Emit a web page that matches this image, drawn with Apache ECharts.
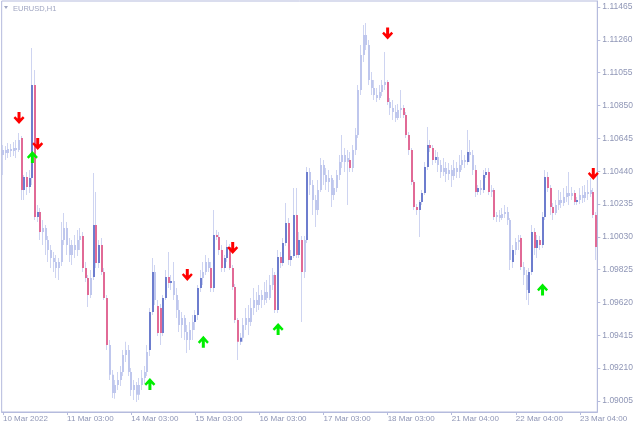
<!DOCTYPE html>
<html>
<head>
<meta charset="utf-8">
<script src="https://cdn.jsdelivr.net/npm/echarts@6/dist/echarts.min.js"></script>
<style>
html,body{margin:0;padding:0;background:#fff;}
#chart{width:640px;height:427px;}
</style>
</head>
<body>
<div id="chart"></div>
<script>
// ---- Data (EURUSD H1) ----
const tickLabels = ['10 Mar 2022','11 Mar 03:00','14 Mar 03:00','15 Mar 03:00','16 Mar 03:00','17 Mar 03:00','18 Mar 03:00','21 Mar 04:00','22 Mar 04:00','23 Mar 04:00'];
const barsPerLabel = 24;
const priceTicks = [1.09005,1.09210,1.09415,1.09620,1.09825,1.10030,1.10235,1.10440,1.10645,1.10850,1.11055,1.11260,1.11465];

const open = [
1.10541,1.10572,1.10554,1.10579,1.10566,1.10585,1.10572,1.10647,1.10323,1.10404,
1.10341,1.10398,1.10978,1.10154,1.10185,1.10060,1.10085,1.10010,1.09948,1.09898,
1.09873,1.09836,1.09873,1.10010,1.10085,1.09979,1.09917,1.09979,1.09948,1.10010,
1.10035,1.09836,1.09773,1.09667,1.09779,1.10104,1.09867,1.09979,1.09811,1.09648,
1.09355,1.09168,1.09055,1.09105,1.09136,1.09186,1.09292,1.09324,1.09186,1.09074,
1.09105,1.09043,1.09105,1.09149,1.09186,1.09324,1.09561,1.09811,1.09598,1.09586,
1.09430,1.09648,1.09779,1.09742,1.09754,1.09667,1.09573,1.09480,1.09523,1.09436,
1.09386,1.09448,1.09498,1.09542,1.09711,1.09773,1.09811,1.09873,1.09836,1.09711,
1.10042,1.10029,1.09948,1.09836,1.09898,1.09967,1.09836,1.09717,1.09511,1.09374,
1.09399,1.09480,1.09523,1.09498,1.09586,1.09636,1.09605,1.09667,1.09636,1.09686,
1.09648,1.09729,1.09792,1.09573,1.09904,1.09867,1.09992,1.10117,1.09886,1.09911,
1.10167,1.09917,1.10010,1.09811,1.10010,1.10435,1.10354,1.10260,1.10198,1.10323,
1.10479,1.10416,1.10373,1.10398,1.10291,1.10335,1.10416,1.10498,1.10541,1.10498,
1.10510,1.10460,1.10572,1.10666,1.10947,1.11166,1.11290,1.11228,1.11010,1.10960,
1.10916,1.10897,1.10935,1.10978,1.10997,1.10872,1.10835,1.10810,1.10772,1.10822,
1.10835,1.10791,1.10666,1.10572,1.10373,1.10216,1.10198,1.10248,1.10304,1.10466,
1.10604,1.10585,1.10510,1.10529,1.10479,1.10435,1.10460,1.10423,1.10448,1.10410,
1.10460,1.10435,1.10479,1.10510,1.10498,1.10560,1.10541,1.10448,1.10310,1.10335,
1.10323,1.10416,1.10435,1.10310,1.10323,1.10154,1.10167,1.10148,1.10173,1.10185,
1.10135,1.09873,1.09948,1.09998,1.10023,1.09842,1.09792,1.09680,1.09811,1.10060,
1.09960,1.10010,1.09979,1.10154,1.10404,1.10335,1.10216,1.10179,1.10229,1.10260,
1.10242,1.10279,1.10304,1.10285,1.10304,1.10248,1.10260,1.10291,1.10273,1.10310,
1.10298,1.10310,1.10167];

const close = [
1.10572,1.10554,1.10579,1.10566,1.10585,1.10572,1.10635,1.10323,1.10404,1.10341,
1.10398,1.10978,1.10154,1.10185,1.10060,1.10085,1.10010,1.09948,1.09898,1.09873,
1.09836,1.09873,1.10010,1.10085,1.09979,1.09917,1.09979,1.09948,1.10010,1.10035,
1.09836,1.09773,1.09667,1.09773,1.10104,1.09867,1.09979,1.09811,1.09648,1.09355,
1.09168,1.09055,1.09105,1.09136,1.09186,1.09292,1.09324,1.09186,1.09074,1.09105,
1.09043,1.09105,1.09149,1.09186,1.09311,1.09561,1.09811,1.09636,1.09430,1.09430,
1.09648,1.09779,1.09742,1.09754,1.09667,1.09573,1.09480,1.09523,1.09436,1.09386,
1.09448,1.09498,1.09542,1.09711,1.09773,1.09811,1.09873,1.09836,1.09711,1.10042,
1.10029,1.09948,1.09836,1.09898,1.09967,1.09836,1.09717,1.09511,1.09374,1.09399,
1.09480,1.09523,1.09498,1.09586,1.09636,1.09605,1.09667,1.09636,1.09686,1.09648,
1.09729,1.09792,1.09573,1.09904,1.09867,1.09992,1.10117,1.09886,1.09911,1.10167,
1.09917,1.10010,1.09811,1.10010,1.10435,1.10354,1.10260,1.10198,1.10323,1.10479,
1.10416,1.10373,1.10398,1.10291,1.10335,1.10416,1.10498,1.10541,1.10498,1.10522,
1.10460,1.10572,1.10666,1.10947,1.11166,1.11290,1.11228,1.11010,1.10960,1.10916,
1.10897,1.10935,1.10978,1.10997,1.10872,1.10835,1.10810,1.10772,1.10822,1.10835,
1.10791,1.10666,1.10572,1.10373,1.10216,1.10198,1.10248,1.10304,1.10466,1.10604,
1.10585,1.10510,1.10529,1.10479,1.10435,1.10460,1.10423,1.10448,1.10410,1.10460,
1.10435,1.10479,1.10510,1.10498,1.10560,1.10541,1.10448,1.10310,1.10335,1.10323,
1.10416,1.10435,1.10310,1.10323,1.10154,1.10167,1.10148,1.10173,1.10185,1.10135,
1.09886,1.09948,1.09998,1.10010,1.09842,1.09792,1.09698,1.09811,1.10060,1.09960,
1.10010,1.09979,1.10154,1.10404,1.10335,1.10216,1.10179,1.10229,1.10260,1.10242,
1.10279,1.10304,1.10285,1.10304,1.10248,1.10260,1.10291,1.10273,1.10310,1.10298,
1.10323,1.10167,1.09967];

const low = [
1.10416,1.10510,1.10522,1.10529,1.10535,1.10522,1.10560,1.10260,1.10260,1.10291,
1.10304,1.10354,1.10135,1.10123,1.10010,1.09979,1.09917,1.09873,1.09836,1.09811,
1.09773,1.09761,1.09848,1.09979,1.09917,1.09873,1.09854,1.09898,1.09911,1.09948,
1.09811,1.09748,1.09592,1.09648,1.09761,1.09836,1.09836,1.09792,1.09636,1.09324,
1.09136,1.09024,1.09018,1.09074,1.09099,1.09161,1.09249,1.09161,1.09036,1.09011,
1.08999,1.09011,1.09074,1.09111,1.09161,1.09286,1.09542,1.09605,1.09411,1.09355,
1.09411,1.09636,1.09711,1.09698,1.09636,1.09523,1.09436,1.09398,1.09386,1.09305,
1.09324,1.09386,1.09448,1.09511,1.09686,1.09729,1.09792,1.09811,1.09686,1.09686,
1.10010,1.09917,1.09811,1.09811,1.09873,1.09823,1.09698,1.09492,1.09261,1.09355,
1.09374,1.09448,1.09417,1.09473,1.09542,1.09561,1.09573,1.09586,1.09605,1.09617,
1.09636,1.09698,1.09555,1.09555,1.09836,1.09848,1.09973,1.09854,1.09848,1.09898,
1.09898,1.09898,1.09498,1.09773,1.09992,1.10291,1.10167,1.10092,1.10167,1.10310,
1.10354,1.10323,1.10310,1.10216,1.10260,1.10310,1.10385,1.10460,1.10435,1.10229,
1.10435,1.10435,1.10541,1.10647,1.10916,1.11122,1.11197,1.10978,1.10916,1.10885,
1.10872,1.10885,1.10910,1.10947,1.10853,1.10791,1.10760,1.10747,1.10760,1.10772,
1.10772,1.10647,1.10541,1.10354,1.10198,1.10167,1.10029,1.10229,1.10291,1.10448,
1.10560,1.10479,1.10491,1.10435,1.10398,1.10410,1.10373,1.10385,1.10341,1.10385,
1.10398,1.10398,1.10448,1.10460,1.10479,1.10498,1.10416,1.10279,1.10291,1.10291,
1.10304,1.10398,1.10291,1.10279,1.10135,1.10123,1.10123,1.10135,1.10148,1.10104,
1.09823,1.09836,1.09917,1.09948,1.09823,1.09729,1.09636,1.09605,1.09792,1.09917,
1.09898,1.09948,1.09960,1.10135,1.10310,1.10167,1.10135,1.10167,1.10198,1.10210,
1.10223,1.10248,1.10229,1.10260,1.10229,1.10229,1.10235,1.10242,1.10248,1.10260,
1.10279,1.10148,1.09886];

const high = [
1.10604,1.10597,1.10616,1.10610,1.10622,1.10635,1.10679,1.10660,1.10416,1.10435,
1.10448,1.11209,1.11072,1.10229,1.10210,1.10135,1.10104,1.10035,1.09979,1.09936,
1.09917,1.09898,1.10123,1.10179,1.10123,1.10023,1.10010,1.10042,1.10073,1.10085,
1.10060,1.09873,1.09792,1.09823,1.10429,1.10310,1.10010,1.10023,1.09836,1.09667,
1.09386,1.09199,1.09136,1.09186,1.09224,1.09324,1.09374,1.09355,1.09211,1.09136,
1.09124,1.09149,1.09199,1.09224,1.09355,1.09586,1.09898,1.09854,1.09636,1.09611,
1.09667,1.09823,1.09936,1.09792,1.09873,1.09711,1.09636,1.09561,1.09542,1.09480,
1.09498,1.09542,1.09573,1.09729,1.09823,1.09873,1.09917,1.09898,1.09873,1.10198,
1.10073,1.10060,1.09979,1.09917,1.10010,1.09985,1.09854,1.09736,1.09523,1.09430,
1.09523,1.09586,1.09605,1.09648,1.09711,1.09686,1.09729,1.09698,1.09748,1.09761,
1.09792,1.09836,1.09811,1.09948,1.09936,1.10023,1.10242,1.10148,1.09948,1.10335,
1.10335,1.10060,1.10035,1.10035,1.10466,1.10460,1.10385,1.10291,1.10385,1.10522,
1.10510,1.10460,1.10448,1.10416,1.10385,1.10448,1.10541,1.10666,1.10585,1.10572,
1.10560,1.10604,1.10710,1.10978,1.11228,1.11353,1.11365,1.11259,1.11059,1.11010,
1.10960,1.10978,1.11010,1.11184,1.11010,1.10897,1.10885,1.10853,1.10860,1.10947,
1.10853,1.10810,1.10685,1.10585,1.10385,1.10235,1.10260,1.10323,1.10498,1.10716,
1.10635,1.10604,1.10572,1.10560,1.10510,1.10522,1.10498,1.10491,1.10479,1.10510,
1.10498,1.10541,1.10572,1.10541,1.10697,1.10635,1.10572,1.10479,1.10354,1.10385,
1.10448,1.10460,1.10460,1.10354,1.10335,1.10185,1.10198,1.10210,1.10229,1.10216,
1.10148,1.09979,1.10023,1.10042,1.10042,1.09873,1.09823,1.09836,1.10104,1.10085,
1.10042,1.10035,1.10185,1.10448,1.10435,1.10354,1.10242,1.10260,1.10323,1.10310,
1.10335,1.10348,1.10435,1.10341,1.10323,1.10279,1.10335,1.10348,1.10354,1.10385,
1.10398,1.10335,1.10185];

// bars drawn in the highlighted (signal) colours
const markedBars = [7,8,9,10,11,12,13,14,30,31,32,34,35,36,37,38,39,55,56,58,59,60,61,62,63,
72,73,74,78,79,80,81,82,83,84,85,86,87,88,89,102,103,104,105,106,107,108,109,110,111,112,114,
130,144,150,151,152,153,154,155,156,157,158,159,160,161,162,174,177,178,180,181,182,184,191,194,
197,198,199,200,201,202,203,204,205,206,214,215,221,222];

// arrow signals: [bar index, price]
const sellArrows = [[6,1.10772],[13,1.10610],[69,1.09792],[86,1.09960],[144,1.11300],[221,1.10423]];
const buyArrows  = [[11,1.10529],[55,1.09111],[75,1.09374],[103,1.09455],[202,1.09701]];

// ---- Styles ----
const BLUE = '#6d7dce', PINK = '#e16a96', LIGHT = '#bfc7ed', WICK = '#ced4f1';
const AXIS = '#b5bbdd', TEXT = '#8f96b6';

const markSet = new Set(markedBars);
const cats = open.map((_, i) => i);
const candleData = open.map((o, i) => [i, o, close[i], low[i], high[i], markSet.has(i) ? 1 : 0]);

const chart = echarts.init(document.getElementById('chart'), null, {renderer: 'canvas'});
const option = {
  animation: false,
  backgroundColor: '#ffffff',
  grid: { left: 1.4, right: 42.7, top: 1, bottom: 15, show: true, borderColor: AXIS, borderWidth: 1, backgroundColor: 'transparent' },
  xAxis: {
    type: 'category', data: cats, boundaryGap: true,
    axisLine: { show: true, lineStyle: { color: AXIS, width: 1 } },
    axisTick: { show: true, interval: barsPerLabel - 1, alignWithLabel: true, length: 3, lineStyle: { color: AXIS } },
    axisLabel: {
      interval: barsPerLabel - 1, align: 'left', margin: 3,
      color: TEXT, fontSize: 8, fontFamily: 'Liberation Sans',
      formatter: (v, idx) => tickLabels[Math.round(idx / barsPerLabel)] || ''
    },
    splitLine: { show: false }
  },
  yAxis: {
    type: 'value', position: 'right', min: 1.08936, max: 1.11503, scale: true,
    axisLine: { show: true, lineStyle: { color: AXIS, width: 1 } },
    axisTick: { show: true, length: 3, customValues: priceTicks, lineStyle: { color: AXIS } },
    axisLabel: { customValues: priceTicks, margin: 5, color: TEXT, fontSize: 8.5, fontFamily: 'Liberation Sans',
      formatter: v => v.toFixed(5) },
    splitLine: { show: false }
  },
  series: [
    {
      type: 'custom', name: 'EURUSD', data: candleData,
      dimensions: ['i','open','close','low','high','mark'],
      encode: { x: 0, y: [1,2,3,4] },
      clip: true,
      renderItem: function (params, api) {
        const i = api.value(0), o = api.value(1), c = api.value(2), lo = api.value(3), hi = api.value(4), mk = api.value(5);
        const pO = api.coord([i, o]), pC = api.coord([i, c]), pL = api.coord([i, lo]), pH = api.coord([i, hi]);
        const x = Math.round(pO[0]);
        const yT = Math.min(pO[1], pC[1]), yB = Math.max(pO[1], pC[1]);
        const body = mk ? (c >= o ? BLUE : PINK) : LIGHT;
        return { type: 'group', children: [
          { type: 'rect', shape: { x: x - 1, y: pH[1], width: 1, height: Math.max(1, pL[1] - pH[1]) }, style: { fill: WICK } },
          { type: 'rect', shape: { x: x - 1, y: yT, width: 2, height: Math.max(1, yB - yT) }, style: { fill: body } }
        ]};
      },
      z: 2
    },
    {
      type: 'scatter', name: 'sell', data: sellArrows, z: 5,
      symbol: 'path://M4,0 L7,0 L7,6.5 L9.3,4.2 L11,5.9 L5.5,12 L0,5.9 L1.7,4.2 L4,6.5 Z',
      symbolSize: [11, 12], itemStyle: { color: '#ff0000', opacity: 1 }, silent: true
    },
    {
      type: 'scatter', name: 'buy', data: buyArrows, z: 5,
      symbol: 'path://M4,12 L7,12 L7,5.5 L9.3,7.8 L11,6.1 L5.5,0 L0,6.1 L1.7,7.8 L4,5.5 Z',
      symbolSize: [11, 12], itemStyle: { color: '#00ee00', opacity: 1 }, silent: true
    }
  ],
  graphic: [
    { type: 'polygon', shape: { points: [[4,6],[8,6],[6,9]] }, style: { fill: '#a0a6c2' }, z: 10 },
    { type: 'text', x: 13, y: 8.5, style: { text: 'EURUSD,H1', fill: '#a0a6c2', font: '7.5px "Liberation Sans"', verticalAlign: 'middle' }, z: 10 }
  ]
};
chart.setOption(option);
</script>
</body>
</html>
